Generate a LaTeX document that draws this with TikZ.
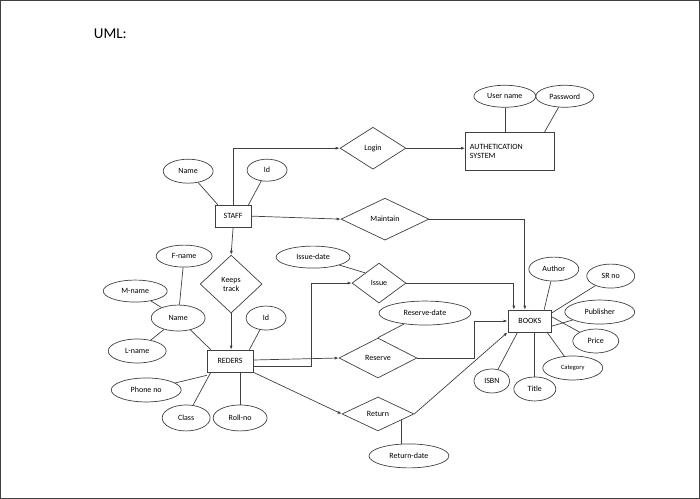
\documentclass[tikz,border=0pt]{standalone}
\usepackage{fontspec}
\setmainfont{Carlito}
\usetikzlibrary{shapes.geometric,arrows.meta}
\begin{document}
\begin{tikzpicture}[x=1pt,y=-1pt,
  attr/.style={draw,ellipse,inner sep=0pt,font=\fontsize{8}{9}\selectfont},
  ent/.style={draw,rectangle,inner sep=2pt,font=\fontsize{8}{9}\selectfont},
  rel/.style={draw,diamond,inner sep=0pt,aspect=1.6,font=\fontsize{8}{9}\selectfont},
  arr/.style={-{Latex[length=4pt,width=3pt]}},
  every path/.style={line width=0.7pt,draw=black!75}]
\useasboundingbox (0,0) rectangle (700,498);
\node[anchor=west,font=\fontsize{15}{17}\selectfont] (uml) at (90,33) {UML:};
% auth
\node[ent,minimum width=89,minimum height=38,align=left,text width=80] (auth) at (510,151) {AUTHETICATION\\SYSTEM};
\node[attr,minimum width=62,minimum height=22] (uname) at (505,96) {User name};
\node[attr,minimum width=58,minimum height=22] (pw) at (565,96) {Password};
\node[rel,minimum width=66,minimum height=42] (login) at (373,148) {Login};
% staff
\node[ent,minimum width=36,minimum height=22] (staff) at (233,216) {STAFF};
\node[attr,minimum width=50,minimum height=24] (sname) at (188,171) {Name};
\node[attr,minimum width=40,minimum height=22] (sid) at (267,170) {Id};
\node[rel,minimum width=88,minimum height=42] (maint) at (385,219) {Maintain};
\node[rel,minimum width=62,minimum height=58,align=center] (keeps) at (231,284) {Keeps\\track};
% readers
\node[ent,minimum width=46,minimum height=22] (rd) at (230,361) {REDERS};
\node[attr,minimum width=56,minimum height=22] (fn) at (184,256) {F-name};
\node[attr,minimum width=64,minimum height=22] (mn) at (135,291) {M-name};
\node[attr,minimum width=54,minimum height=26] (rname) at (178,318) {Name};
\node[attr,minimum width=58,minimum height=24] (ln) at (137,351) {L-name};
\node[attr,minimum width=40,minimum height=24] (rid) at (266,318) {Id};
\node[attr,minimum width=70,minimum height=24] (ph) at (146,390) {Phone no};
\node[attr,minimum width=48,minimum height=26] (cls) at (186,418) {Class};
\node[attr,minimum width=54,minimum height=26] (roll) at (240,418) {Roll-no};
% relations
\node[attr,minimum width=74,minimum height=22] (idate) at (313,257) {Issue-date};
\node[rel,minimum width=54,minimum height=40] (issue) at (379,283) {Issue};
\node[attr,minimum width=92,minimum height=24] (rsdate) at (425,313) {Reserve-date};
\node[rel,minimum width=78,minimum height=40] (res) at (378,358) {Reserve};
\node[rel,minimum width=72,minimum height=34] (ret) at (378,414) {Return};
\node[attr,minimum width=80,minimum height=24] (rtdate) at (409,456) {Return-date};
\coordinate (rtj) at (401,420);
% books
\node[ent,minimum width=44,minimum height=22] (books) at (530,321) {BOOKS};
\node[attr,minimum width=50,minimum height=24] (auth2) at (554,269) {Author};
\node[attr,minimum width=48,minimum height=24] (sr) at (611,276) {SR no};
\node[attr,minimum width=70,minimum height=24] (pub) at (600,312) {Publisher};
\node[attr,minimum width=46,minimum height=24] (price) at (596,341) {Price};
\node[attr,minimum width=60,minimum height=24,font=\fontsize{6.5}{7}\selectfont] (cat) at (573,368) {Category};
\node[attr,minimum width=42,minimum height=24] (title) at (535,389) {Title};
\node[attr,minimum width=36,minimum height=24] (isbn) at (492,381) {ISBN};
% attribute lines
\draw (uname) -- (uname|-auth.north);
\draw (pw) -- ([xshift=-10pt]auth.north east);
\draw (sname) -- ([xshift=3pt]staff.north west);
\draw (sid) -- ([xshift=-3pt]staff.north east);
\draw (fn) -- (rname);
\draw (mn) -- (rname);
\draw (ln) -- (rname);
\draw (rname) -- ([xshift=4pt]rd.north west);
\draw (rid) -- ([xshift=-4pt]rd.north east);
\draw (ph) -- ([yshift=-3pt]rd.south west);
\draw (cls) -- ([xshift=4pt]rd.south west);
\draw (roll) -- (roll|-rd.south);
\draw (idate) -- (issue.north west);
\draw (rsdate) -- (res.north);
\draw (rtj) -- (rtj|-rtdate.north);
\draw (auth2) -- ([xshift=-8pt]books.north east);
\draw (sr) -- ([yshift=-3pt]books.north east);
\draw (pub) -- ([yshift=-5pt]books.east);
\draw (price) -- ([yshift=4pt]books.east);
\draw (cat) -- ([xshift=-5pt]books.south east);
\draw (title) -- (title|-books.south);
\draw (isbn) -- ([xshift=10pt]books.south west);
% relationships
\draw[arr] (staff.north) |- (login.west);
\draw[arr] (login.east) -- (login.east-|auth.west);
\draw[arr] (staff.east) -- (maint.west);
\draw[arr] (maint.east) -| ([xshift=-5pt]books.north);
\draw[arr] (staff.south) -- (keeps.north);
\draw[arr] (keeps.south) -- (keeps.south|-rd.north);
\draw[arr] ([yshift=-5pt]rd.east) -| (311,283) -- (issue.west);
\draw[arr] (issue.east) -| ([xshift=-16pt]books.north);
\draw[arr] ([yshift=1pt]rd.east) -- (res.west);
\draw[arr] (res.east) -| (474,321) -- (books.west);
\draw[arr] (rd.south east) -- (ret.west);
\draw[arr] (ret.east) -- (books.south west);
\end{tikzpicture}
\end{document}
